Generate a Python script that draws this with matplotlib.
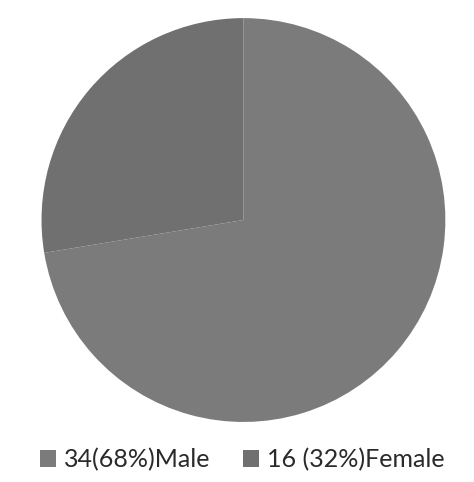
import matplotlib.pyplot as plt
from matplotlib.patches import Patch

# slice sizes as drawn in the picture (labels give 34 / 16)
labels = ["34(68%)Male", "16 (32%)Female"]
sizes = [72.4, 27.6]
colors = ["#7b7b7b", "#707070"]

fig = plt.figure(figsize=(4.74, 4.82), dpi=100)
fig.patch.set_facecolor("white")

ax = fig.add_axes([0.0876, 0.1245, 0.852, 0.838])
ax.pie(sizes, colors=colors, startangle=90, counterclock=False,
       radius=1.0, wedgeprops={"linewidth": 0})
ax.set_xlim(-1, 1)
ax.set_ylim(-1, 1)
ax.set_aspect("equal")
ax.axis("off")

handles = [Patch(facecolor=c, edgecolor="none") for c in colors]
leg = fig.legend(handles, labels, loc="center", bbox_to_anchor=(0.511, 0.046),
                 ncol=2, frameon=False, handlelength=0.65,
                 handleheight=0.65, handletextpad=0.3, columnspacing=1.3,
                 prop={"family": "Lato", "size": 18})

for t in leg.get_texts():
    t.set_color("#2a2a2a")

fig.savefig("out.png", dpi=100, facecolor="white")
